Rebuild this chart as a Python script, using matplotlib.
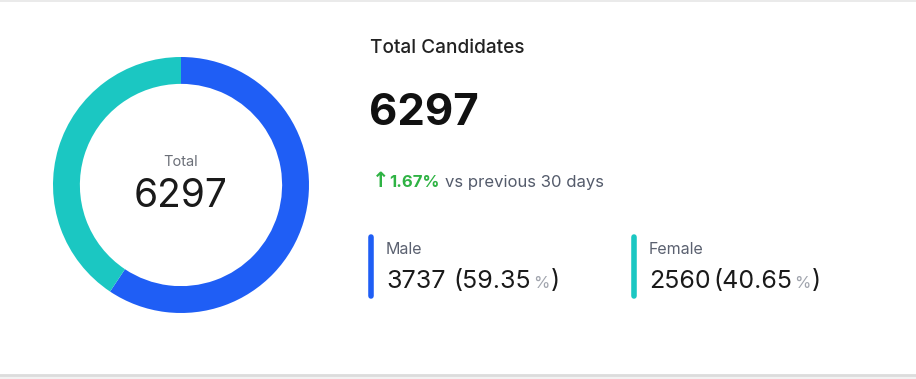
import matplotlib
matplotlib.use("Agg")
import matplotlib.pyplot as plt

plt.rcParams['font.family'] = ['Inter', 'DejaVu Sans']

# data
labels = ["Male", "Female"]
counts = [3737, 2560]
shares = [59.35, 40.65]
colors = ["#1F5EF5", "#1BC7C2"]
change_pct = 1.67
title = "Total Candidates"
period_text = "vs previous 30 days"

total = sum(counts)

W, H = 916, 379
fig = plt.figure(figsize=(W / 100, H / 100), dpi=100)

# text layer in pixel coordinates
ax = fig.add_axes([0, 0, 1, 1])
ax.set_xlim(0, W)
ax.set_ylim(H, 0)
ax.axis("off")

# card edges
ax.axhline(0.6, color="#e6e6e6", lw=1.2)
ax.axhline(375, color="#dcdcdc", lw=2)
ax.axhspan(376, H, color="#f2f2f2", lw=0)

# donut
cx, cy, r = 181, 185, 128
pax = fig.add_axes([(cx - r) / W, (H - cy - r) / H, 2 * r / W, 2 * r / H])
pax.pie(counts, colors=colors, startangle=90, counterclock=False,
        radius=1, wedgeprops=dict(width=0.21, linewidth=0))
pax.set_aspect("equal")
pax.set_xlim(-1, 1)
pax.set_ylim(-1, 1)

pax.text(0, 0.18, "Total", ha="center", va="center", fontsize=10.5, color="#6b6f78")
pax.text(0, -0.09, str(total), ha="center", va="center", fontsize=28, color="#1a1a1a")

fig.canvas.draw()
renderer = fig.canvas.get_renderer()


def put_run(x, y, parts):
    """Draw text pieces one after another on a shared baseline."""
    for s, kw, gap in parts:
        t = ax.text(x, y, s, va="baseline", ha="left", **kw)
        bb = t.get_window_extent(renderer=renderer)
        x += bb.width + gap
    return x


ax.text(370, 53, title, fontsize=13.7, color="#222222", va="baseline", fontweight="medium")
ax.text(369, 125, str(total), fontsize=31.5, fontweight="bold", color="#111111", va="baseline")

put_run(372, 187, [
    ("↑", dict(fontsize=15, color="#2FB344", family=["DejaVu Sans"], fontweight="bold"), 0),
    (f"{change_pct:.2f}%", dict(fontsize=12, color="#2FB344", fontweight="bold"), 5),
    (period_text, dict(fontsize=12, color="#545b6b"), 0),
])

# male / female blocks
blocks = [(371, labels[0], counts[0], shares[0], colors[0], 8),
          (634, labels[1], counts[1], shares[1], colors[1], 3)]
for bx, lab, cnt, sh, col, gap in blocks:
    ax.plot([bx, bx], [237, 296], color=col, lw=4, solid_capstyle="round")
    ax.text(bx + 15, 254, lab, fontsize=11.5, color="#5b6170", va="baseline")
    put_run(bx + 15, 288, [
        (str(cnt), dict(fontsize=18, color="#1a1a1a"), gap),
        (f"({sh:.2f}", dict(fontsize=18, color="#1a1a1a"), 2),
        ("%", dict(fontsize=12, color="#a0a4ad"), 1),
        (")", dict(fontsize=18, color="#1a1a1a"), 0),
    ])

fig.savefig("out.png", dpi=100, facecolor="white")
